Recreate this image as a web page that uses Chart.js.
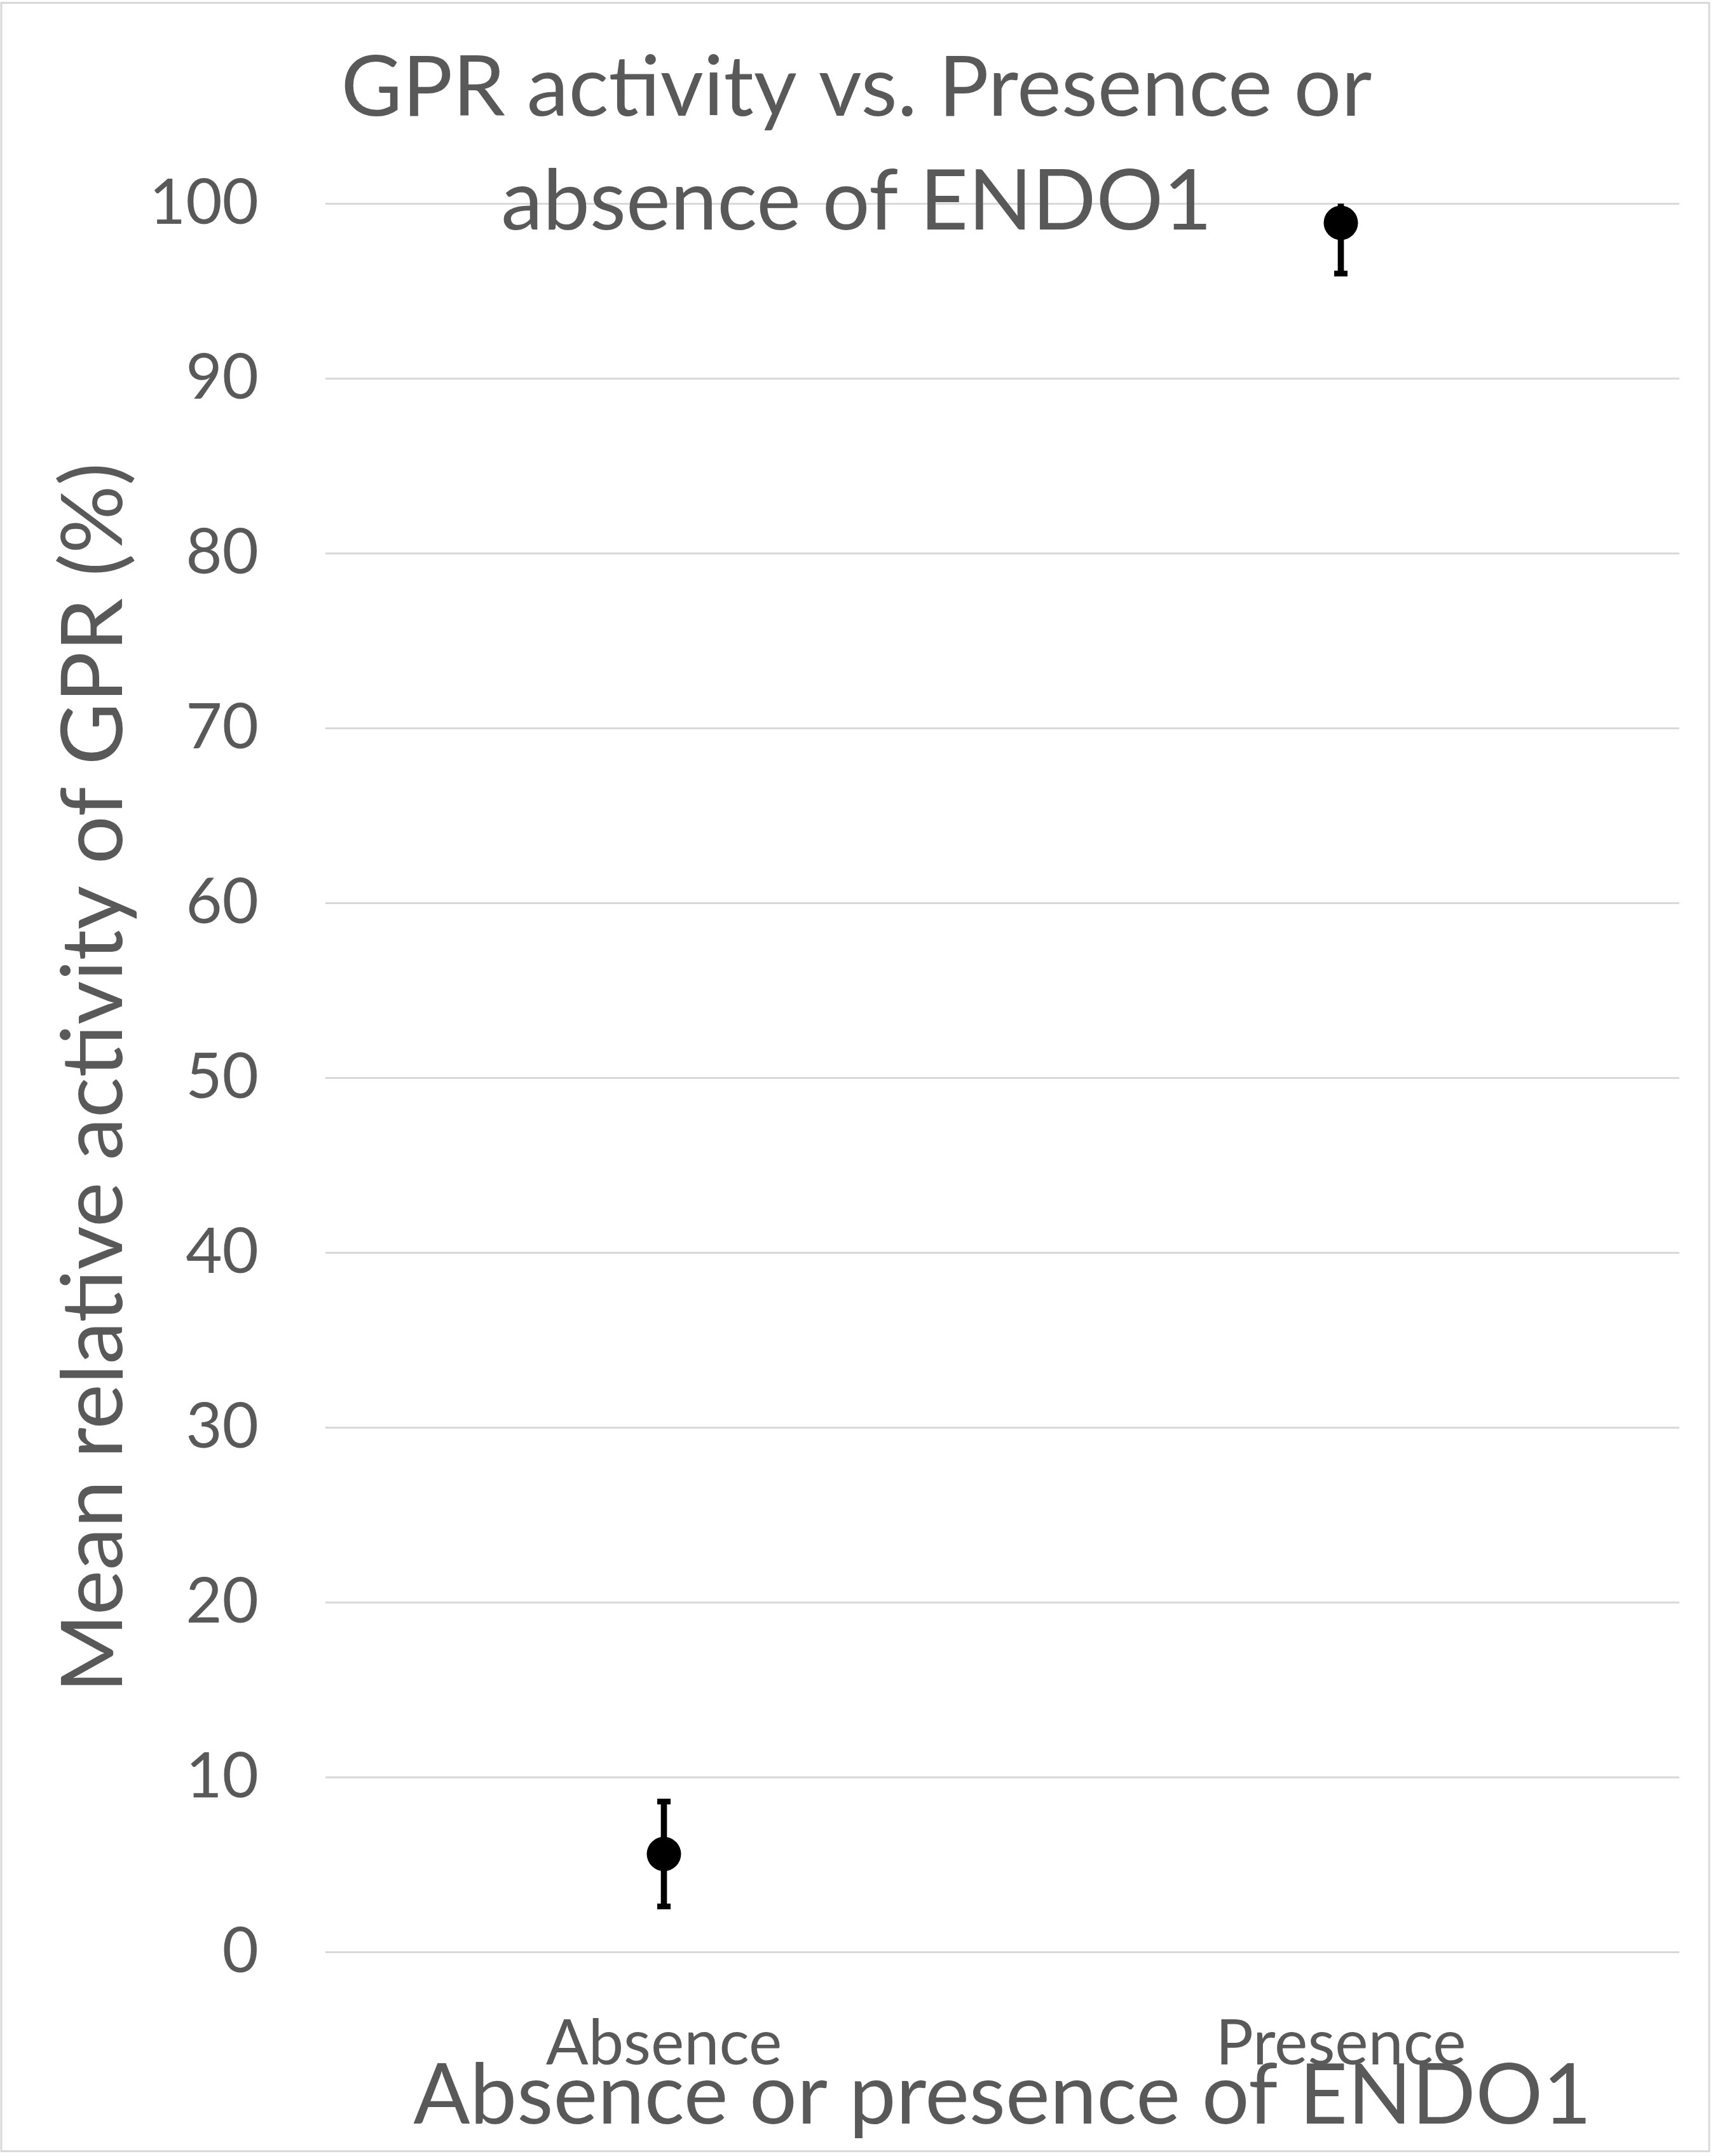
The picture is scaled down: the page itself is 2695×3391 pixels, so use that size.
<!DOCTYPE html>
<html lang="en">
<head>
    <meta charset="UTF-8">
    <title>GPR activity vs. Presence or absence of ENDO1</title>
    <script src="https://cdn.jsdelivr.net/npm/chart.js"></script>
    <style>
        body { margin: 0; background: #fff; }
        canvas { display: block; }
    </style>
</head>
<body>
    <canvas id="gprChart" width="2695" height="3391"></canvas>

    <script>
// data
const categories = ['Absence', 'Presence'];
const meanActivity = [5.6, 98.9];
const errorSize = [3.0, 2.9];
const yTicks = { min: 0, max: 100, step: 10 };

const lows = meanActivity.map((m, i) => m - errorSize[i]);
const highs = meanActivity.map((m, i) => m + errorSize[i]);

const textColor = '#595959';
const fontFamily = "Lato, 'Noto Sans', sans-serif";

// light frame round the whole picture, like the exported chart area
const framePlugin = {
    id: 'frame',
    beforeDraw(chart) {
        const ctx = chart.ctx;
        ctx.save();
        ctx.fillStyle = '#fff';
        ctx.fillRect(0, 0, chart.width, chart.height);
        ctx.strokeStyle = '#d9d9d9';
        ctx.lineWidth = 3;
        ctx.strokeRect(2, 4.5, chart.width - 8, chart.height - 12);
        ctx.restore();
    }
};

const ctx = document.getElementById('gprChart').getContext('2d');
new Chart(ctx, {
    type: 'bar',
    data: {
        labels: categories,
        datasets: [
            {
                type: 'line',
                label: 'Mean',
                data: meanActivity,
                showLine: false,
                pointRadius: 27,
                pointBackgroundColor: '#000',
                pointBorderWidth: 0,
                clip: false,
                order: 0
            },
            {
                type: 'line',
                label: 'Error low',
                data: lows,
                showLine: false,
                pointStyle: 'line',
                pointRadius: 10.5,
                pointBorderWidth: 9,
                pointBorderColor: '#000',
                clip: 0,
                order: 1
            },
            {
                type: 'line',
                label: 'Error high',
                data: highs,
                showLine: false,
                pointStyle: 'line',
                pointRadius: 10.5,
                pointBorderWidth: 9,
                pointBorderColor: '#000',
                clip: 0,
                order: 1
            },
            {
                label: 'Error bar',
                data: lows.map((lo, i) => [lo, highs[i]]),
                backgroundColor: '#000',
                barThickness: 9,
                clip: 0,
                order: 2
            }
        ]
    },
    options: {
        responsive: false,
        animation: false,
        devicePixelRatio: 1,
        events: [],
        layout: { padding: 0 },
        plugins: {
            legend: { display: false },
            tooltip: { enabled: false },
            title: {
                display: true,
                text: ['GPR activity vs. Presence or', 'absence of ENDO1'],
                color: textColor,
                font: { family: fontFamily, size: 132, weight: 'normal', lineHeight: 1.357 },
                padding: { top: 50, bottom: -88 }
            }
        },
        scales: {
            x: {
                grid: { display: false, drawTicks: false },
                border: { display: false },
                ticks: {
                    color: textColor,
                    font: { family: fontFamily, size: 99 },
                    padding: 86,
                    maxRotation: 0
                },
                title: {
                    display: true,
                    text: 'Absence or presence of ENDO1',
                    color: textColor,
                    font: { family: fontFamily, size: 132, lineHeight: 1.2 },
                    padding: { top: 0, bottom: 14 }
                },
                afterFit: scale => { scale.height = 321; }
            },
            y: {
                min: yTicks.min,
                max: yTicks.max,
                grid: { color: '#d9d9d9', lineWidth: 3, drawTicks: false },
                border: { display: false },
                ticks: {
                    stepSize: yTicks.step,
                    color: textColor,
                    font: { family: fontFamily, size: 99 },
                    padding: 105
                },
                title: {
                    display: true,
                    text: 'Mean relative activity of GPR (%)',
                    color: textColor,
                    font: { family: fontFamily, size: 134, lineHeight: 1.2 },
                    padding: { top: 68, bottom: 0 }
                },
                afterFit: scale => { scale.width = 512; }
            },
            // empty right-hand margin so the title stays centred on the whole picture
            yRight: {
                position: 'right',
                grid: { display: false, drawTicks: false },
                border: { display: false },
                ticks: { display: false },
                afterFit: scale => { scale.width = 53; }
            }
        }
    },
    plugins: [framePlugin]
});
    </script>
</body>
</html>
